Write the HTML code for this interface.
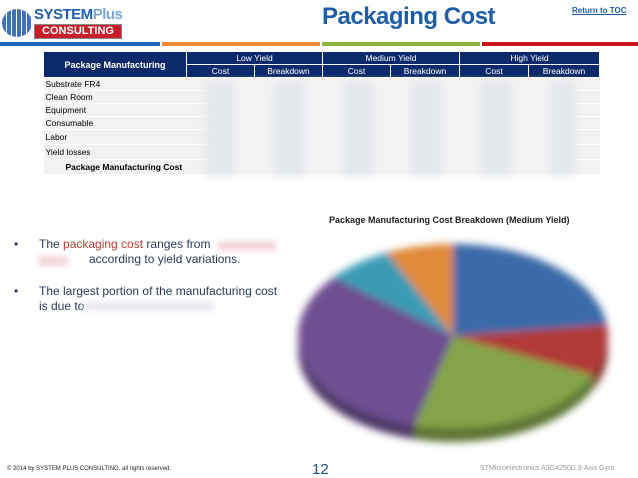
<!DOCTYPE html>
<html><head><meta charset="utf-8">
<style>
body{margin:0;width:638px;height:478px;background:#fff;position:relative;overflow:hidden;font-family:"Liberation Sans",sans-serif}
.abs{position:absolute}
table{border-collapse:collapse;table-layout:fixed;font-family:"Liberation Sans",sans-serif;font-size:8.5px}
td{padding:0;line-height:10px}
.hd{background:#0c2a6b;color:#fff;text-align:center;border:1px solid #fff;height:12px}
.rl td{height:12px;padding:0 2px;background:#f2f2f2;border-bottom:1px solid #fff}
.blur{filter:blur(4px)}
</style></head><body>
<div class="abs" style="left:2px;top:6px;width:150px;height:34px">
 <div class="abs" style="left:0;top:3px;width:30px;height:28px;border-radius:50%;background:repeating-linear-gradient(90deg,#2a64b0 0 4px,#fff 4px 5px),#2a64b0;opacity:.9"></div>
 <div class="abs" style="left:32px;top:0;font:bold 15px 'Liberation Sans',sans-serif;color:#1f5fae;letter-spacing:-.5px">SYSTEM<span style="color:#7aa6d8">Plus</span></div>
 <div class="abs" style="left:32px;top:18px;width:86px;height:13px;background:#c81e2a;color:#fff;font:bold 11px 'Liberation Sans',sans-serif;text-align:center;line-height:13px;border:1px solid #888">CONSULTING</div>
</div>
<div class="abs" style="left:322px;top:3px;font:bold 24px 'Liberation Sans',sans-serif;color:#1e5ea8;letter-spacing:-.5px">Packaging Cost</div>
<div class="abs" style="left:572px;top:6px;font:bold 8px 'Liberation Sans',sans-serif;color:#1e5ea8;text-decoration:underline">Return to TOC</div>
<div class="abs" style="left:0;top:42px;width:160px;height:4px;background:#2065b8"></div>
<div class="abs" style="left:162px;top:42px;width:158px;height:4px;background:#f08a3a"></div>
<div class="abs" style="left:322px;top:42px;width:158px;height:4px;background:#8bb443"></div>
<div class="abs" style="left:482px;top:42px;width:156px;height:4px;background:#c8161d"></div>

<table class="abs" style="left:43px;top:51px;width:556px">
<colgroup><col style="width:143px"><col style="width:68px"><col style="width:68px"><col style="width:68px"><col style="width:69px"><col style="width:69px"><col style="width:71px"></colgroup>
<tr><td class="hd" rowspan="2" style="font-weight:bold;font-size:9px">Package Manufacturing</td>
<td class="hd" colspan="2">Low Yield</td>
<td class="hd" colspan="2">Medium Yield</td>
<td class="hd" colspan="2">High Yield</td></tr>
<tr><td class="hd">Cost</td><td class="hd">Breakdown</td><td class="hd">Cost</td><td class="hd">Breakdown</td><td class="hd">Cost</td><td class="hd">Breakdown</td></tr>
<tr class="rl"><td>Substrate FR4</td><td colspan="6"></td></tr>
<tr class="rl"><td>Clean Room</td><td colspan="6"></td></tr>
<tr class="rl"><td>Equipment</td><td colspan="6"></td></tr>
<tr class="rl"><td>Consumable</td><td colspan="6"></td></tr>
<tr class="rl"><td style="height:14px">Labor</td><td colspan="6"></td></tr>
<tr class="rl"><td style="height:14px">Yield losses</td><td colspan="6"></td></tr>
<tr class="rl"><td style="font-weight:bold;padding-left:22px;height:14px">Package Manufacturing Cost</td><td colspan="6"></td></tr>
</table>
<div class="abs blur" style="left:205px;top:82px;width:370px;height:94px;background:repeating-linear-gradient(90deg,#e4e7eb 0 30px,#f1f2f4 30px 69px)"></div>

<div class="abs" style="left:14px;top:237px;font:12px 'Liberation Sans',sans-serif;color:#2a3a5a;line-height:15px">
<span style="position:absolute;left:0">•</span>
<div style="margin-left:25px;width:250px"><span>The <span style="color:#c0392b">packaging cost</span> ranges from</span><br><span style="display:inline-block;width:50px"></span>according to yield variations.</div></div>
<div class="abs" style="left:14px;top:284px;font:12px 'Liberation Sans',sans-serif;color:#2a3a5a;line-height:15px">
<span style="position:absolute;left:0">•</span>
<div style="margin-left:25px;width:250px">The largest portion of the manufacturing cost<br>is due to</div></div>
<div class="abs blur" style="left:218px;top:241px;width:58px;height:10px;background:#f3d6da;filter:blur(3px)"></div>
<div class="abs blur" style="left:38px;top:256px;width:30px;height:10px;background:#f3d6da;filter:blur(3px)"></div>
<div class="abs blur" style="left:84px;top:302px;width:130px;height:9px;background:#e7e9f2;filter:blur(3px)"></div>

<div class="abs" style="left:329px;top:215px;font:bold 9px 'Liberation Sans',sans-serif;color:#222">Package Manufacturing Cost Breakdown (Medium Yield)</div>
<svg class="abs" id="pie" style="left:280px;top:230px" width="358" height="230"></svg>

<div class="abs" style="left:7px;top:466px;font:6px 'Liberation Sans',sans-serif;color:#222">© 2014 by SYSTEM PLUS CONSULTING, all rights reserved.</div>
<div class="abs" style="left:312px;top:461px;font:15px 'Liberation Sans',sans-serif;color:#1e4e8e">12</div>
<div class="abs" style="left:480px;top:465px;font:7px 'Liberation Sans',sans-serif;color:#999">STMicroelectronics A3G4250D 3-Axis Gyro</div>

<script>
const categories=["Substrate FR4","Clean Room","Equipment","Consumable","Labor","Yield losses"];
const values=[23,9,22,32,7,7];
const colors=["#3a6aa8","#b03a38","#84a548","#6e4f92","#3b9bb5","#e08a3a"];
const svg=document.getElementById('pie');
const NS="http://www.w3.org/2000/svg";
const cx=173,cy=106,rx=155,ry=92,depth=14;
const total=values.reduce((a,b)=>a+b,0);
const defs=document.createElementNS(NS,'defs');
defs.innerHTML='<filter id="bl" x="-10%" y="-10%" width="120%" height="120%"><feGaussianBlur stdDeviation="4"/></filter>';
svg.appendChild(defs);
const g=document.createElementNS(NS,'g');g.setAttribute('filter','url(#bl)');svg.appendChild(g);
function pt(a,dy){return [cx+rx*Math.sin(a),cy-ry*Math.cos(a)+dy];}
function shade(c,f){const n=parseInt(c.slice(1),16);return 'rgb('+[(n>>16)&255,(n>>8)&255,n&255].map(v=>Math.round(v*f)).join(',')+')';}
let a0=0;const arcs=[];
values.forEach((v,i)=>{const a1=a0+v/total*2*Math.PI;arcs.push([a0,a1]);a0=a1;});
arcs.forEach(([s,e],i)=>{
  const p=document.createElementNS(NS,'path');
  const q0=pt(s,0),q1=pt(e,0),q2=pt(e,depth),q3=pt(s,depth);const lg=(e-s)>Math.PI?1:0;
  p.setAttribute('d',`M${q0}A${rx},${ry} 0 ${lg} 1 ${q1}L${q2}A${rx},${ry} 0 ${lg} 0 ${q3}Z`);
  p.setAttribute('fill',shade(colors[i],0.7));
  
  
  g.appendChild(p);
});
arcs.forEach(([s,e],i)=>{
  const p=document.createElementNS(NS,'path');
  const q0=pt(s,0),q1=pt(e,0);const lg=(e-s)>Math.PI?1:0;
  p.setAttribute('d',`M${cx},${cy}L${q0}A${rx},${ry} 0 ${lg} 1 ${q1}Z`);
  p.setAttribute('fill',colors[i]);
  
  
  g.appendChild(p);
});
</script>
</body></html>
